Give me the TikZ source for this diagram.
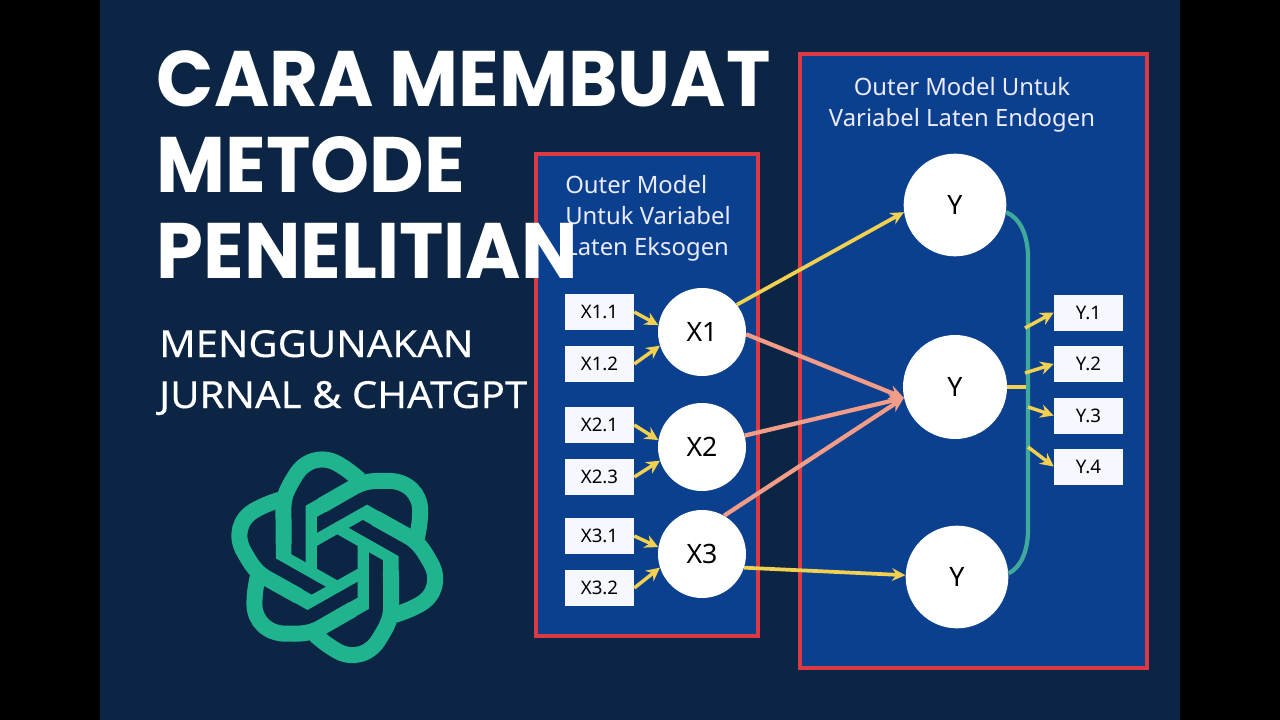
\documentclass[tikz,border=0pt]{standalone}
\usepackage{fontspec}
\setmainfont{Noto Sans}
\newfontfamily\titlefont[FakeStretch=0.955]{Poppins}
\newfontfamily\subfont[FakeStretch=1.075,FakeBold=0.25]{Noto Sans}
\usetikzlibrary{arrows.meta}
\definecolor{navy}{HTML}{0C2545}
\definecolor{panelblue}{HTML}{0B408F}
\definecolor{redline}{HTML}{DB3A45}
\definecolor{ylw}{HTML}{F2D050}
\definecolor{salmon}{HTML}{F39C88}
\definecolor{tealline}{HTML}{3FA99C}
\definecolor{logogreen}{HTML}{1FB48E}
\tikzset{
  x=0.75pt,y=-0.75pt,
  panel/.style={draw=redline,line width=3pt,fill=panelblue,inner sep=0pt,outer sep=0pt},
  itembox/.style={draw=none,fill=white!97!blue,minimum width=51.75pt,minimum height=27pt,inner sep=0pt,text=black,font=\fontsize{14}{16}\selectfont},
  latent/.style={circle,fill=white,draw=none,inner sep=0pt,text=black,font=\fontsize{20}{22}\selectfont},
  yarrow/.style={draw=ylw,line width=2.6pt,-{Stealth[length=10pt,width=10pt]}},
  ybig/.style={draw=ylw,line width=2.8pt,-{Stealth[length=10pt,width=9.5pt]}},
  sbig/.style={draw=salmon,line width=3.2pt,-{Stealth[length=11pt,width=10.5pt]}},
  paneltext/.style={text=white!92!blue,font=\fontsize{17.9}{23.2}\selectfont},
  titletext/.style={text=white,anchor=base west,inner sep=0pt,font=\titlefont\bfseries\fontsize{59}{60}\selectfont},
  subtext/.style={text=white,anchor=base west,inner sep=0pt,font=\subfont\fontsize{28}{30}\selectfont},
  lobe/.style={draw=logogreen,line width=12pt,line cap=butt,line join=miter},
  legfill/.style={fill=logogreen,draw=none},
}
\begin{document}
\begin{tikzpicture}
\useasboundingbox (0,0) rectangle (1280,720);
\fill[black] (0,0) rectangle (1280,720);
\fill[navy] (100,0) rectangle (1180,720);

% logo
\begin{scope}[shift={(337.3,557.3)},xscale=.975,yscale=.955,x=0.25pt,y=-0.25pt]
\foreach \a in {0,60,120,180,240,300}{
  \begin{scope}[rotate=-\a]
    \fill[legfill] (-97.5,46) -- (-97.5,-162) -- (-50,-189.4) -- (-27.9,-147) -- (-62.5,-127) -- (-62.5,46) -- cycle;
    \draw[lobe] (-47,-163.5) -- (53,-222) .. controls (90,-243) and (125,-240) .. (158,-240)
       .. controls (215,-240) and (255,-200) .. (255,-147)
       .. controls (255,-120) and (252,-95) .. (245,-62);
  \end{scope}
}
\end{scope}

% panels
\node[panel,minimum width=166.5pt,minimum height=361.5pt] (left) at (647,395) {};
\node[panel,minimum width=260.25pt,minimum height=460.5pt] (right) at (973.5,361) {};

\node[paneltext,align=left,anchor=north west,inner sep=0pt] (ltxt) at (565,175) {Outer Model\\Untuk Variabel\\Laten Eksogen};
\node[paneltext,align=center,inner sep=0pt] (rtxt) at (962,105) {Outer Model Untuk\\Variabel Laten Endogen};

% title
\node[titletext] (t1) at (156.5,107) {CARA MEMBUAT};
\node[titletext] (t2) at (156.5,193) {METODE};
\node[titletext] (t3) at (156.5,278) {PENELITIAN};
\node[subtext] (s1) at (159,357) {MENGGUNAKAN};
\node[subtext] (s2) at (159,408) {JURNAL \& CHATGPT};

% latent
\node[latent,minimum size=66pt] (x1) at (702,332) {X1};
\node[latent,minimum size=66pt] (x2) at (702,447) {X2};
\node[latent,minimum size=66pt] (x3) at (702,554) {X3};
\node[latent,minimum size=77pt] (y1) at (955,205) {Y};
\node[latent,minimum size=78pt] (y2) at (955,387) {Y};
\node[latent,minimum size=77pt] (y3) at (957,577) {Y};

% items
\node[itembox] (x11) at (599.5,312) {X1.1};
\node[itembox] (x12) at (599.5,364) {X1.2};
\node[itembox] (x21) at (599.5,425) {X2.1};
\node[itembox] (x23) at (599.5,477) {X2.3};
\node[itembox] (x31) at (599.5,536) {X3.1};
\node[itembox] (x32) at (599.5,588) {X3.2};
\node[itembox] (yi1) at (1088.5,312.5) {Y.1};
\node[itembox] (yi2) at (1088.5,364) {Y.2};
\node[itembox] (yi3) at (1088.5,415.5) {Y.3};
\node[itembox] (yi4) at (1088.5,466.5) {Y.4};

% bracket
\draw[tealline,line width=3.2pt] (y1.-8) .. controls (1020,218) and (1028,235) .. (1028,258)
   -- (1028,530) .. controls (1028,552) and (1020,568) .. (y3.4);

% free ends on bracket
\coordinate (b0) at (1026,387);
\coordinate (b1) at (1025,328);
\coordinate (b2) at (1025,373);
\coordinate (b3) at (1028,407);
\coordinate (b4) at (1028,447);
\draw[draw=ylw,line width=2.6pt] (y2.east) -- (b0);
\draw[yarrow] (b1) -- (yi1.west);
\draw[yarrow] (b2) -- (yi2.west);
\draw[yarrow] (b3) -- (yi3.west);
\draw[yarrow] (b4) -- (yi4.west);

% small arrows
\draw[yarrow] (x11.east) -- (x1.171);
\draw[yarrow] (x12.east) -- (x1.198);
\draw[yarrow] (x21.east) -- (x2.171);
\draw[yarrow] (x23.east) -- (x2.198);
\draw[yarrow] (x31.east) -- (x3.171);
\draw[yarrow] (x32.east) -- (x3.198);

% main arrows
\draw[ybig] (x1.38) -- (y1.188);
\draw[sbig] (x1.-3) -- (y2.192);
\draw[sbig] (x2.15) -- (y2.192);
\draw[sbig] (x3.60) -- (y2.192);
\draw[ybig] (x3.-18) -- (y3.178);
\end{tikzpicture}
\end{document}
